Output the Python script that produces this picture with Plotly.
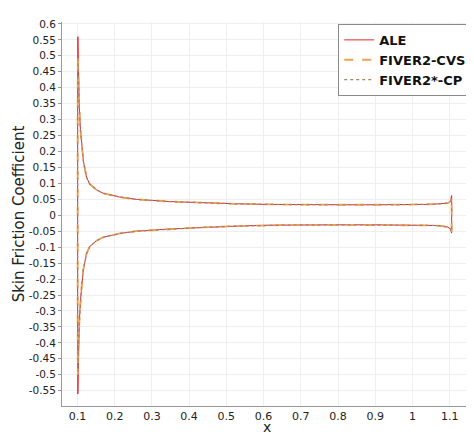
import plotly.graph_objects as go

# chord-wise stations (same for both surfaces)
x_stations = [0.1, 0.1006, 0.1012, 0.102, 0.103, 0.105, 0.108, 0.112, 0.116,
              0.1245, 0.133, 0.151, 0.169, 0.214, 0.258, 0.347, 0.436, 0.526,
              0.615, 0.7, 0.8, 0.9, 0.98, 1.03, 1.06, 1.08, 1.095, 1.102, 1.105]

# skin friction, upper surface
ale_upper = [0.0, 0.35, 0.56, 0.50, 0.42, 0.34, 0.27, 0.21, 0.17,
             0.119, 0.098, 0.080, 0.069, 0.057, 0.050, 0.043, 0.039, 0.036,
             0.034, 0.033, 0.033, 0.033, 0.033, 0.034, 0.035, 0.036, 0.038, 0.045, 0.062]
cvs_upper = [0.0, 0.33, 0.50, 0.48, 0.41, 0.34, 0.27, 0.21, 0.17,
             0.119, 0.098, 0.080, 0.069, 0.057, 0.050, 0.043, 0.039, 0.036,
             0.034, 0.033, 0.033, 0.033, 0.033, 0.034, 0.035, 0.036, 0.038, 0.044, 0.052]
cp_upper = [0.0, 0.32, 0.49, 0.47, 0.41, 0.34, 0.27, 0.21, 0.17,
            0.119, 0.098, 0.080, 0.069, 0.057, 0.050, 0.043, 0.039, 0.036,
            0.034, 0.033, 0.033, 0.033, 0.033, 0.034, 0.035, 0.036, 0.038, 0.044, 0.050]

# skin friction, lower surface
ale_lower = [0.0, -0.35, -0.56, -0.50, -0.42, -0.34, -0.27, -0.21, -0.17,
             -0.120, -0.098, -0.080, -0.069, -0.057, -0.050, -0.043, -0.038, -0.034,
             -0.031, -0.030, -0.030, -0.030, -0.030, -0.031, -0.032, -0.034, -0.037, -0.044, -0.056]
cvs_lower = [0.0, -0.33, -0.50, -0.48, -0.41, -0.34, -0.27, -0.21, -0.17,
             -0.120, -0.098, -0.080, -0.069, -0.057, -0.050, -0.043, -0.038, -0.034,
             -0.031, -0.030, -0.030, -0.030, -0.030, -0.031, -0.032, -0.034, -0.037, -0.043, -0.052]
cp_lower = [0.0, -0.32, -0.49, -0.47, -0.41, -0.34, -0.27, -0.21, -0.17,
            -0.120, -0.098, -0.080, -0.069, -0.057, -0.050, -0.043, -0.038, -0.034,
            -0.031, -0.030, -0.030, -0.030, -0.030, -0.031, -0.032, -0.034, -0.037, -0.043, -0.050]

series_names = ["ALE", "FIVER2-CVS", "FIVER2*-CP"]
x_ticks = [0.1, 0.2, 0.3, 0.4, 0.5, 0.6, 0.7, 0.8, 0.9, 1.0, 1.1]
x_tick_labels = ["0.1", "0.2", "0.3", "0.4", "0.5", "0.6", "0.7", "0.8", "0.9", "1", "1.1"]
y_ticks = [-0.55, -0.5, -0.45, -0.4, -0.35, -0.3, -0.25, -0.2, -0.15, -0.1, -0.05, 0,
           0.05, 0.1, 0.15, 0.2, 0.25, 0.3, 0.35, 0.4, 0.45, 0.5, 0.55, 0.6]
y_tick_labels = ["-0.55", "-0.5", "-0.45", "-0.4", "-0.35", "-0.3", "-0.25", "-0.2",
                 "-0.15", "-0.1", "-0.05", "0", "0.05", "0.1", "0.15", "0.2", "0.25",
                 "0.3", "0.35", "0.4", "0.45", "0.5", "0.55", "0.6"]

styles = [
    dict(color="#e3262c", width=1.0, dash="solid"),
    dict(color="#f2a150", width=1.8, dash="dash"),
    dict(color="#a08468", width=1.2, dash="dot"),
]


def closed_loop(upper, lower):
    """Trailing edge -> upper surface -> leading edge -> lower surface -> trailing edge."""
    xs = x_stations[::-1] + x_stations[1:] + [x_stations[-1]]
    ys = upper[::-1] + lower[1:] + [upper[-1]]
    return xs, ys


fig = go.Figure()
for name, up, lo, st in zip(series_names,
                            [ale_upper, cvs_upper, cp_upper],
                            [ale_lower, cvs_lower, cp_lower],
                            styles):
    xs, ys = closed_loop(up, lo)
    fig.add_trace(go.Scatter(x=xs, y=ys, mode="lines", name=name, line=st))

fig.update_layout(
    width=474, height=432,
    margin=dict(l=52, r=11, t=10, b=34),
    paper_bgcolor="white", plot_bgcolor="white",
    font=dict(family="DejaVu Sans", size=11, color="#222"),
    legend=dict(x=1.003, y=0.995, xanchor="right", yanchor="top",
                bgcolor="white", bordercolor="#8a8a8a", borderwidth=1,
                font=dict(family="DejaVu Sans", size=13, color="#111", weight="bold"),
                itemwidth=30, tracegroupgap=0),
    showlegend=True,
    # x-axis title as annotation so it sits inside the bottom margin
    annotations=[dict(text="x", xref="paper", yref="paper", x=0.5, y=-0.055,
                      xanchor="center", yanchor="middle", showarrow=False,
                      font=dict(size=14, color="#222"))],
)
fig.update_xaxes(
    range=[0.0586, 1.157], tickvals=x_ticks, ticktext=x_tick_labels,
    showgrid=True, gridcolor="#efefef", zeroline=False,
    showline=True, linecolor="#999", linewidth=1, ticks="",
    tickfont=dict(size=11),
)
fig.update_yaxes(
    range=[-0.598, 0.606], tickvals=y_ticks, ticktext=y_tick_labels,
    showgrid=True, gridcolor="#efefef", zeroline=False,
    showline=True, linecolor="#999", linewidth=1,
    ticks="outside", ticklen=3, tickcolor="#999",
    tickfont=dict(size=10.5),
    title=dict(text="Skin Friction Coefficient", font=dict(size=15), standoff=0),
)

fig.write_html("out.html")
